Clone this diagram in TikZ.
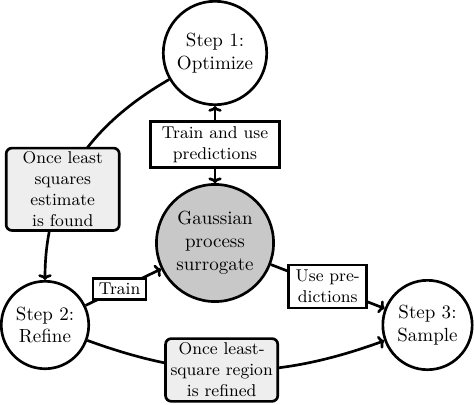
\documentclass[tikz,border=0pt]{standalone}
\usepackage{xcolor}
\definecolor{gpgray}{RGB}{200,200,200}
\definecolor{notegray}{RGB}{238,238,238}
\usetikzlibrary{arrows.meta, positioning}

\tikzset{
  stepnode/.style={circle, draw=black, line width=1.4pt, fill=white, align=center, inner sep=0pt},
  labelbox/.style={rectangle, draw=black, line width=1.4pt, fill=white, font=\small, align=center, inner sep=0pt},
  notebox/.style={labelbox, fill=notegray, rounded corners=3pt},
  flow/.style={line width=1.4pt, -{To[length=3pt, width=7pt]}},
}

\begin{document}
\begin{tikzpicture}[x=0.526pt, y=0.526pt]
  \useasboundingbox (0,0) rectangle (474,-404);

  % --- Steps and surrogate ---
  \node[stepnode, minimum size=54.4pt] (optimize) at (215,-53) {Step 1:\\Optimize};
  \node[stepnode, minimum size=61.6pt, fill=gpgray] (gp) at (215,-243) {Gaussian\\process\\surrogate};
  \node[stepnode, minimum size=46pt] (refine) at (45,-325) {Step 2:\\Refine};
  \node[stepnode, minimum size=47pt] (sample) at (427.5,-325) {Step 3:\\Sample};

  % --- Links with the surrogate ---
  \draw[line width=1.4pt, {To[length=3pt, width=7pt]}-{To[length=3pt, width=7pt]}] (optimize) --
    node[labelbox, minimum width=68pt, minimum height=24pt] (trainuse) {Train and use\\predictions} (gp);
  \draw[flow] (refine) --
    node[labelbox, pos=0.45, minimum width=28pt, minimum height=11pt] (train) {Train} (gp);
  \draw[flow] (gp) --
    node[labelbox, minimum width=41pt, minimum height=22.5pt] (usepred) {Use pre-\\dictions} (sample);

  % --- Moving between the steps ---
  \draw[flow] (optimize) to[out=210, in=90]
    node[notebox, pos=0.63, minimum width=59.5pt, minimum height=43.3pt] (lsfound) {Once least\\squares\\estimate\\is found} (refine);
  \draw[flow] (refine) to[bend right=20]
    node[notebox, pos=0.45, minimum width=59pt, minimum height=33pt] (lsrefined) {Once least-\\square region\\is refined} (sample);
\end{tikzpicture}
\end{document}
